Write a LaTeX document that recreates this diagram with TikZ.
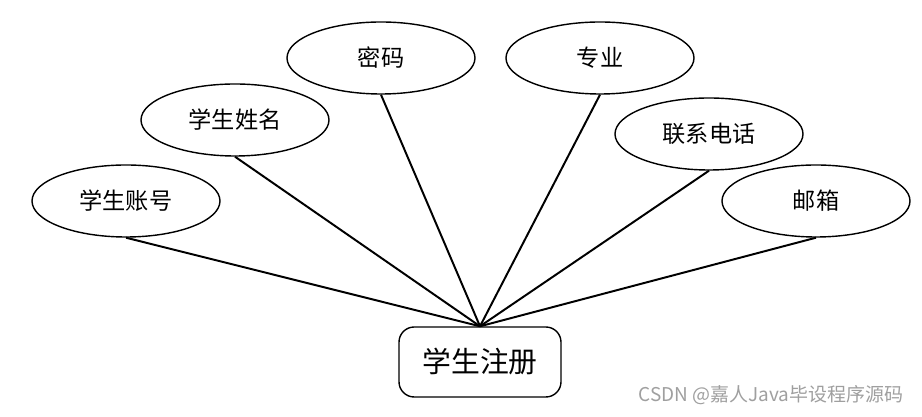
\documentclass[tikz,border=0pt]{standalone}
\usepackage{fontspec}
\usepackage{xcolor}
\usepackage{tikz}
\usetikzlibrary{positioning,shapes.geometric}
\newfontfamily\cjk{Noto Sans CJK SC}

\begin{document}
\begin{tikzpicture}[
attr/.style={
    ellipse, draw, line width=1pt,
    minimum width=4.7cm,
    minimum height=1.8cm,
    inner sep=0pt,
    align=center,
    font=\cjk\fontsize{16.5}{18}\selectfont
},
ent/.style={
    rectangle, draw, rounded corners=0.38cm, line width=1pt,
    minimum width=4.05cm,
    minimum height=1.75cm,
    align=center,
    font=\cjk\fontsize{20.5}{22}\selectfont
},
link/.style={line width=1.4pt}
]
\useasboundingbox (0,0) rectangle (23.05,10.425);

\node[ent] (zhuce) at (12.0,1.375) {学生注册};
\node[attr] (zhanghao) at (3.15,5.4) {学生账号};
\node[attr] (xingming) at (5.875,7.425) {学生姓名};
\node[attr] (mima) at (9.525,8.975) {密码};
\node[attr] (zhuanye) at (15.0,8.975) {专业};
\node[attr] (dianhua) at (17.725,7.075) {联系电话};
\node[attr] (youxiang) at (20.4,5.4) {邮箱};
\node[text=gray!75, font=\cjk\fontsize{13.5}{15}\selectfont] (mark) at (19.275,0.55) {CSDN @嘉人Java毕设程序源码};

\draw[link] (zhanghao.south) -- (zhuce.north);
\draw[link] (xingming.south) -- (zhuce.north);
\draw[link] (mima.south) -- (zhuce.north);
\draw[link] (zhuanye.south) -- (zhuce.north);
\draw[link] (dianhua.south) -- (zhuce.north);
\draw[link] (youxiang.south) -- (zhuce.north);

\end{tikzpicture}
\end{document}
